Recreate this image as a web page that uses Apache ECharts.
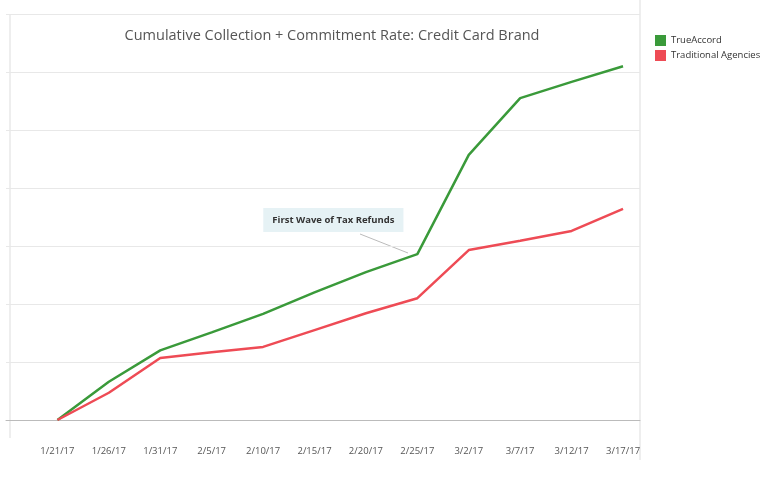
<!DOCTYPE html>
<html>
<head>
<meta charset="UTF-8">
<script src="https://cdn.jsdelivr.net/npm/echarts@6/dist/echarts.min.js"></script>
<style>
  html, body { margin: 0; background: #fff; }
  #main { width: 768px; height: 478px; }
</style>
</head>
<body>
<div id="main"></div>
<script>
  var chart = echarts.init(document.getElementById('main'));

  // data
  var dates = ['1/21/17', '1/26/17', '1/31/17', '2/5/17', '2/10/17', '2/15/17',
               '2/20/17', '2/25/17', '3/2/17', '3/7/17', '3/12/17', '3/17/17'];
  var trueAccord = [0, 6.6, 12.0, 15.1, 18.3, 22.0, 25.5, 28.6, 45.7, 55.5, 58.3, 61.0];
  var traditional = [0, 4.7, 10.7, 11.7, 12.6, 15.5, 18.4, 21.0, 29.3, 30.9, 32.6, 36.4];

  function pts(arr) { return arr.map(function (v, i) { return [i, v]; }); }

  var option = {
    animation: false,
    title: {
      text: 'Cumulative Collection + Commitment Rate: Credit Card Brand',
      left: 327, top: 23, textAlign: 'center',
      textStyle: { fontFamily: 'Open Sans', fontWeight: 'normal', fontSize: 14.5, color: '#555' }
    },
    legend: {
      orient: 'vertical', left: 650, top: 30, itemGap: 4,
      icon: 'rect', itemWidth: 11, itemHeight: 11,
      textStyle: { fontFamily: 'Open Sans', fontSize: 9.5, color: '#333' },
      data: ['TrueAccord', 'Traditional Agencies']
    },
    grid: { left: 6, right: 128, top: 14, bottom: 58 },
    xAxis: {
      type: 'value', min: -1, max: 11.33, interval: 1, offset: 18,
      axisLine: { show: true, lineStyle: { color: '#bbb' } },
      axisTick: { show: false },
      splitLine: { show: false },
      axisLabel: {
        showMaxLabel: false, fontFamily: 'Open Sans', fontSize: 9.5, color: '#555',
        formatter: function (v) { return dates[v] || ''; }
      }
    },
    yAxis: {
      type: 'value', min: 0, max: 70, interval: 10,
      axisLine: { show: false }, axisTick: { show: false }, axisLabel: { show: false },
      splitLine: { lineStyle: { color: '#e8e8e8' } }
    },
    series: [
      {
        name: 'TrueAccord', type: 'line', data: pts(trueAccord), showSymbol: false,
        color: '#3a9a3a', lineStyle: { width: 2.5 },
        markPoint: {
          symbol: 'circle', symbolSize: 0,
          data: [{ coord: [7, trueAccord[7]] }],
          label: {
            show: true, formatter: 'First Wave of Tax Refunds',
            offset: [-84, -34], backgroundColor: '#e6f2f5', padding: [7, 9],
            fontFamily: 'Open Sans', fontSize: 9.5, fontWeight: 'bold', color: '#333'
          }
        }
      },
      {
        name: 'Traditional Agencies', type: 'line', data: pts(traditional), showSymbol: false,
        color: '#ee4b55', lineStyle: { width: 2.5 }
      }
    ],
    graphic: [
      { type: 'line', shape: { x1: 10, y1: 14, x2: 10, y2: 438 }, style: { stroke: '#ddd' } },
      { type: 'line', shape: { x1: 640, y1: 0, x2: 640, y2: 460 }, style: { stroke: '#ddd' } },
      { type: 'line', shape: { x1: 360, y1: 234, x2: 408, y2: 253 }, style: { stroke: '#bbb' } }
    ]
  };

  chart.setOption(option);
</script>
</body>
</html>
